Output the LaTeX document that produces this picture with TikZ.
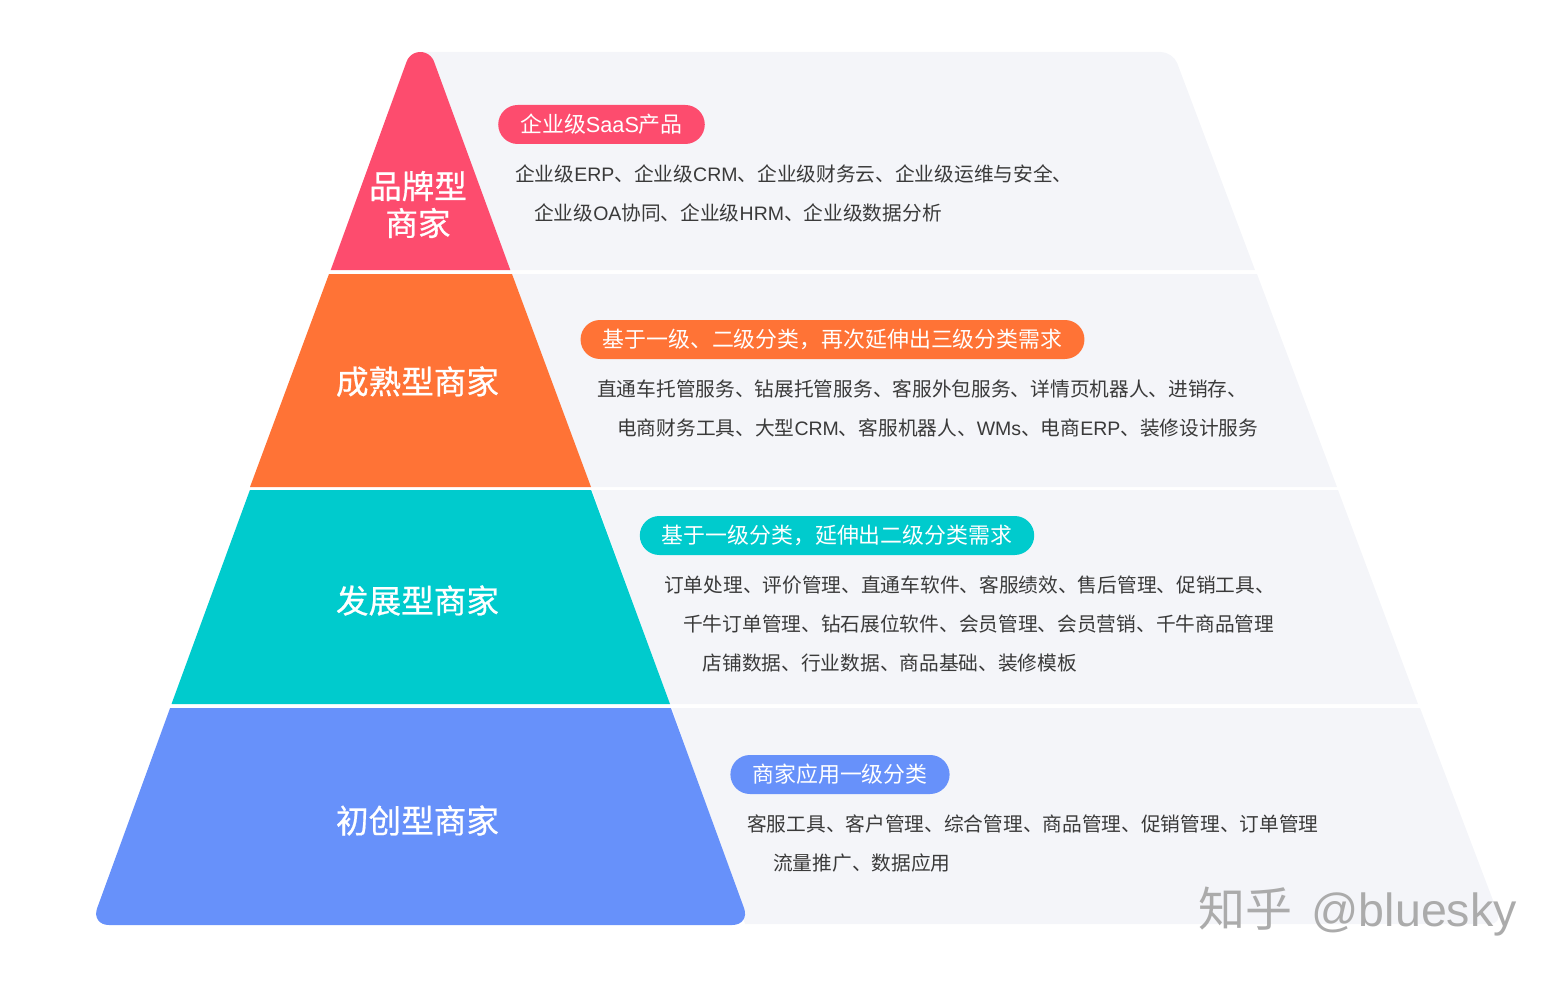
\documentclass[tikz,border=0pt]{standalone}
\usepackage{fontspec}
\setmainfont{Noto Sans CJK SC}
\newfontfamily\titlefont[FakeBold=0.6]{Noto Sans CJK SC}
\newfontfamily\latinfont[Scale=0.99]{Liberation Sans}
\newcommand{\la}[1]{{\latinfont #1}}
\usetikzlibrary{positioning}

\definecolor{pinklayer}{HTML}{FD4C6E}
\definecolor{orangelayer}{HTML}{FF7336}
\definecolor{teallayer}{HTML}{00CBCD}
\definecolor{bluelayer}{HTML}{6791FA}
\definecolor{bandgray}{HTML}{F4F5F9}
\definecolor{itemgray}{HTML}{3A3A3A}
\definecolor{markgray}{HTML}{ABABAB}

\begin{document}
\begin{tikzpicture}[
    x=1pt,
    y=-1pt,
    band/.style={fill=bandgray},
    layertext/.style={text=white, align=center, inner sep=0pt,
        font=\titlefont\fontsize{32.6}{37}\selectfont},
    pill/.style={text=white, rounded corners=19.5pt, minimum height=39pt,
        inner xsep=22pt, inner ysep=0pt, font=\fontsize{21.9}{26}\selectfont},
    item/.style={text=itemgray, anchor=west, inner sep=0pt,
        font=\fontsize{19.7}{24}\selectfont},
]
    \useasboundingbox (0,0) rectangle (1554,984);

    % grey bands
    \path[band] (420,52) [rounded corners=12pt] -- (1173,52) [sharp corners] -- (1255,270) -- (509,270) -- cycle;
    \path[band] (512,274) -- (1257,274) -- (1337,487) -- (590,487) -- cycle;
    \path[band] (592,490) -- (1338,490) -- (1418,704) -- (670,704) -- cycle;
    \path[band] (672,708) -- (1420,708) [rounded corners=12pt] -- (1502,924) [sharp corners] -- (745,924) -- cycle;

    % pyramid layers
    \fill[pinklayer] (406.6,61.6) arc[start angle=200, end angle=340, radius=14.6] -- (510.3,270) -- (330.7,270) -- cycle;
    \fill[orangelayer] (329,274) -- (512,274) -- (591,487) -- (250,487) -- cycle;
    \fill[teallayer] (249.9,490) -- (591.1,490) -- (670,704) -- (171.5,704) -- cycle;
    \fill[bluelayer] (170.1,708) -- (670.9,708) [rounded corners=18pt] -- (750.2,925) -- (91,925) [sharp corners] -- cycle;

    \node[layertext] (brand)  at (418,204.5) {品牌型\\商家};
    \node[layertext] (mature) at (417.5,381.5) {成熟型商家};
    \node[layertext] (grow)   at (417.5,600.5) {发展型商家};
    \node[layertext] (start)  at (417.5,820.5) {初创型商家};

    \node[pill, fill=pinklayer]   (brandpill)  at (601.5,124.5) {企业级\la{SaaS}产品};
    \node[pill, fill=orangelayer] (maturepill) at (832.5,339.5) {基于一级、二级分类，再次延伸出三级分类需求};
    \node[pill, fill=teallayer]   (growpill)   at (837,535.5)   {基于一级分类，延伸出二级分类需求};
    \node[pill, fill=bluelayer]   (startpill)  at (840,774.5)   {商家应用一级分类};

    \node[item] (brandA)  at (515,174) {企业级\la{ERP}、企业级\la{CRM}、企业级财务云、企业级运维与安全、};
    \node[item] (brandB)  at (534,213) {企业级\la{OA}协同、企业级\la{HRM}、企业级数据分析};

    \node[item] (matureA) at (597,389) {直通车托管服务、钻展托管服务、客服外包服务、详情页机器人、进销存、};
    \node[item] (matureB) at (617,428) {电商财务工具、大型\la{CRM}、客服机器人、\la{WMs}、电商\la{ERP}、装修设计服务};

    \node[item] (growA)   at (664,585) {订单处理、评价管理、直通车软件、客服绩效、售后管理、促销工具、};
    \node[item] (growB)   at (683,624) {千牛订单管理、钻石展位软件、会员管理、会员营销、千牛商品管理};
    \node[item] (growC)   at (702.5,663) {店铺数据、行业数据、商品基础、装修模板};

    \node[item] (startA)  at (747,824) {客服工具、客户管理、综合管理、商品管理、促销管理、订单管理};
    \node[item] (startB)  at (773,863) {流量推广、数据应用};

    \node[anchor=west, inner sep=0pt, text=markgray, font=\fontsize{47}{52}\selectfont]
        (mark) at (1198,912) {知乎\hspace{9pt} \la{@bluesky}};
\end{tikzpicture}
\end{document}
